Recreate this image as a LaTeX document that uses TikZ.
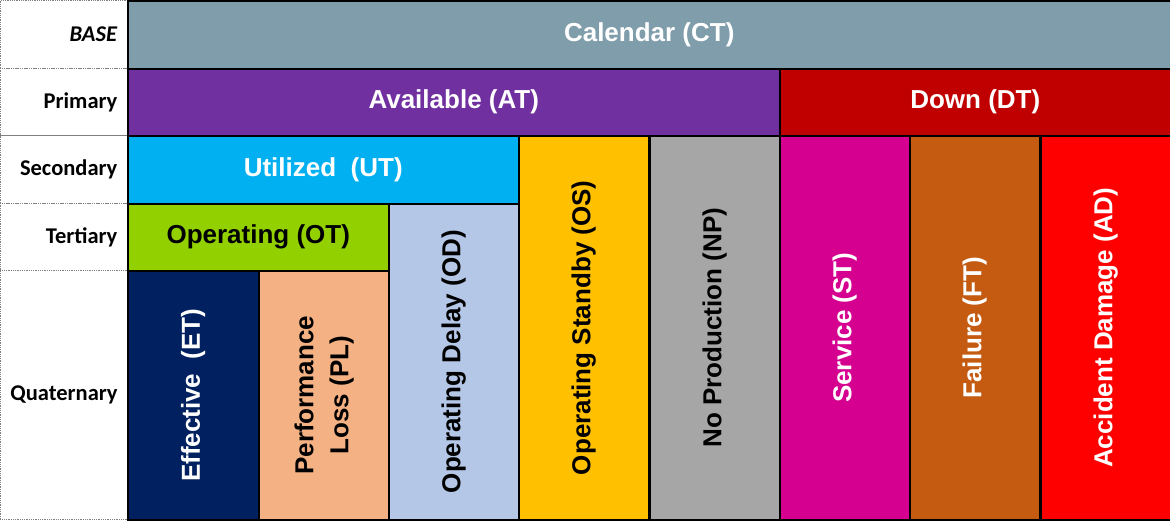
\documentclass[tikz,border=0pt]{standalone}
\usepackage{fontspec}
\setmainfont{Liberation Sans}
\newfontfamily\calfont{Carlito}

\definecolor{CalGrey}{HTML}{7F9DAB}
\definecolor{AvPurple}{HTML}{7030A0}
\definecolor{DownRed}{HTML}{C00000}
\definecolor{UtBlue}{HTML}{00B0F0}
\definecolor{OpGreen}{HTML}{92D000}
\definecolor{EffNavy}{HTML}{002060}
\definecolor{PerfPeach}{HTML}{F4B183}
\definecolor{DelayBlue}{HTML}{B4C7E7}
\definecolor{StbyAmber}{HTML}{FFC000}
\definecolor{NoProdGrey}{HTML}{A6A6A6}
\definecolor{ServMagenta}{HTML}{D5008F}
\definecolor{FailBrown}{HTML}{C55A11}
\definecolor{AccRed}{HTML}{FF0000}

\tikzset{
    cell/.style={draw=black, line width=1.5pt, anchor=north west, inner sep=0pt, align=center,
        font=\fontsize{26}{35}\selectfont\bfseries},
    levelcell/.style={draw=gray, densely dotted, line width=0.8pt, anchor=north west, inner xsep=10pt, inner ysep=0pt,
        text width=107pt, align=right, font=\calfont\fontsize{22.5}{26}\selectfont\bfseries},
}

\begin{document}
\begin{tikzpicture}[x=1pt, y=-1pt]
        \useasboundingbox (0,0) rectangle (1170,520);

        % level names on the left
        \foreach \n/\y/\h/\txt in {base/0/68/\textit{BASE}, prim/68/67/Primary, sec/135/68/Secondary, ter/203/67/Tertiary, quat/270/249/Quaternary} {
            \node (\n) at (0,\y)[levelcell, minimum height=\h pt] {\txt};
        }

        \node (ct) at (127,0)[cell, fill=CalGrey, text=white, minimum width=1043pt, minimum height=68pt] {Calendar (CT)};

        \node (at) at (127,68)[cell, fill=AvPurple, text=white, minimum width=652pt, minimum height=67pt] {Available (AT)};
        \node (dt) at (779,68)[cell, fill=DownRed, text=white, minimum width=391pt, minimum height=67pt] {Down (DT)};

        \node (ut) at (127,135)[cell, fill=UtBlue, text=white, minimum width=391pt, minimum height=68pt] {Utilized~~(UT)};

        \foreach \n/\x/\col/\tc/\txt in {os/518/StbyAmber/black/Operating Standby (OS), np/649/NoProdGrey/black/No Production (NP), st/779/ServMagenta/white/Service (ST), ft/909/FailBrown/white/Failure (FT), ad/1040/AccRed/white/Accident Damage (AD)} {
            \node (\n) at (\x,135)[cell, fill=\col, text=\tc, minimum width=130pt, minimum height=384pt] {\rotatebox{90}{\txt}};
        }

        \node (ot) at (127,203)[cell, fill=OpGreen, minimum width=261pt, minimum height=67pt] {Operating (OT)};
        \node (od) at (388,203)[cell, fill=DelayBlue, minimum width=130pt, minimum height=316pt] {\rotatebox{90}{Operating Delay (OD)}};

        \node (et) at (127,270)[cell, fill=EffNavy, text=white, minimum width=131pt, minimum height=249pt] {\rotatebox{90}{Effective~~(ET)}};
        \node (pl) at (258,270)[cell, fill=PerfPeach, minimum width=130pt, minimum height=249pt] {\rotatebox{90}{\begin{tabular}{@{}c@{}}Performance\\Loss (PL)\end{tabular}}};
    \end{tikzpicture}
\end{document}
